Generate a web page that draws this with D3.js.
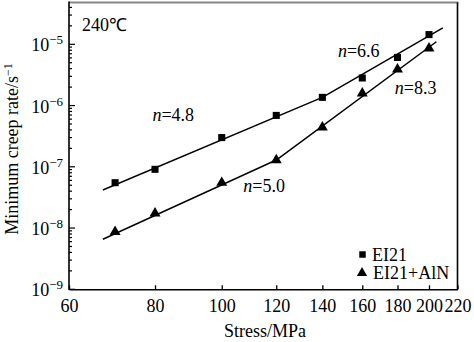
<!DOCTYPE html>
<html>
<head>
<meta charset="utf-8">
<script src="https://cdn.jsdelivr.net/npm/d3@7"></script>
<style>
  html, body { margin: 0; padding: 0; background: #fff; }
  svg { display: block; }
  text { font-family: "Liberation Serif", "Times New Roman", serif; fill: #000; }
</style>
</head>
<body>
<script>
// ---- data ----
const stress = [70, 80, 100, 120, 140, 160, 180, 200];
const rateEI21 = [5.5e-8, 9.1e-8, 3.0e-7, 6.9e-7, 1.36e-6, 2.82e-6, 6.1e-6, 1.44e-5];
const rateEI21AlN = [8.7e-9, 1.74e-8, 5.5e-8, 1.29e-7, 4.4e-7, 1.58e-6, 3.9e-6, 8.6e-6];
// fitted line segments (stress, rate)
const fitEI21Low = [[67.2, 4.18e-8], [140, 1.36e-6]];
const fitEI21High = [[140, 1.36e-6], [209.5, 1.85e-5]];
const fitAlNLow = [[67.2, 6.55e-9], [120, 1.29e-7]];
const fitAlNHigh = [[120, 1.29e-7], [205, 1.10e-5]];
const xTicks = [60, 80, 100, 120, 140, 160, 180, 200, 220];
const yMajor = [-9, -8, -7, -6, -5];
const nLabels = [
  {text: "4.8", s: 79.3, r: 5.7e-7},
  {text: "5.0", s: 107.5, r: 3.92e-8},
  {text: "6.6", s: 147.5, r: 6.1e-6},
  {text: "8.3", s: 178.4, r: 1.55e-6}
];
const seriesNames = ["EI21", "EI21+AlN"];
const tempLabel = "240\u2103";

// ---- layout ----
const W = 474, H = 342;
const L = 69, R = 457.5, T = 2.5, B = 289.3;
const svg = d3.select("body").append("svg").attr("width", W).attr("height", H)
  .attr("font-family", "Liberation Serif, serif");

const x = d3.scaleLog().domain([60, 220]).range([L, R]);
const y = d3.scaleLog().domain([1e-9, Math.pow(10, -9 + (B - T) / 61.25)]).range([B, T]);

// frame
svg.append("line").attr("x1", L).attr("x2", R + 1).attr("y1", T).attr("y2", T)
  .attr("stroke", "#888").attr("stroke-width", 2);
svg.append("line").attr("x1", R).attr("x2", R).attr("y1", T).attr("y2", B)
  .attr("stroke", "#000").attr("stroke-width", 1.6);

// x axis
const xAxis = d3.axisBottom(x).tickValues(xTicks).tickFormat(d3.format("d"))
  .tickSizeInner(-4).tickSizeOuter(0).tickPadding(12);
const gx = svg.append("g").attr("transform", `translate(0,${B})`).call(xAxis)
  .attr("font-family", "Liberation Serif, serif");
gx.select(".domain").attr("stroke", "#000").attr("stroke-width", 1.6);
gx.selectAll(".tick line").attr("stroke", "#000").attr("stroke-width", 1.3);
gx.selectAll(".tick text").attr("font-size", 18)
  .attr("dy", "0.71em").attr("y", 10);

// y axis: minor ticks
const minorVals = [];
for (let e = -9; e <= -5; e++) {
  for (let m = 1; m <= 9; m++) {
    const v = m * Math.pow(10, e);
    if (v >= y.domain()[0] && v <= y.domain()[1]) minorVals.push(v);
  }
}
const gy = svg.append("g");
gy.append("line").attr("x1", L).attr("x2", L).attr("y1", T - 1).attr("y2", B + 0.8)
  .attr("stroke", "#000").attr("stroke-width", 1.6);
gy.selectAll("line.tk").data(minorVals).join("line").attr("class", "tk")
  .attr("x1", L).attr("x2", d => L + (Math.abs(Math.log10(d) - Math.round(Math.log10(d))) < 1e-9 ? 6 : 3))
  .attr("y1", d => y(d)).attr("y2", d => y(d))
  .attr("stroke", "#000").attr("stroke-width", 1.2);
const ylab = gy.selectAll("text.yl").data(yMajor).join("text").attr("class", "yl")
  .attr("x", L - 6).attr("y", d => y(Math.pow(10, d)) + 7)
  .attr("text-anchor", "end").attr("font-size", 18);
ylab.append("tspan").text("10");
ylab.append("tspan").attr("dy", -7).attr("font-size", 13).text(d => "\u2212" + Math.abs(d));

// axis titles
svg.append("text").attr("x", 265).attr("y", 337).attr("text-anchor", "middle")
  .attr("font-size", 18).text("Stress/MPa");
const yt = svg.append("text").attr("transform", `translate(18,149) rotate(-90)`)
  .attr("text-anchor", "middle").attr("font-size", 18);
yt.append("tspan").text("Minimum creep rate/s");
yt.append("tspan").attr("dy", -6).attr("font-size", 12).text("\u22121");

// temperature label
svg.append("text").attr("x", 82).attr("y", 31).attr("font-size", 18).text(tempLabel);

// fit lines
const line = d3.line().x(d => x(d[0])).y(d => y(d[1]));
[fitEI21Low, fitEI21High, fitAlNLow, fitAlNHigh].forEach(seg => {
  svg.append("path").attr("d", line(seg)).attr("fill", "none")
    .attr("stroke", "#000").attr("stroke-width", 1.5);
});

// markers
const sq = d3.symbol().type(d3.symbolSquare).size(50);
const tri = d3.symbol().type(d3.symbolTriangle).size(52);
svg.selectAll("path.sq").data(stress).join("path").attr("class", "sq")
  .attr("d", sq).attr("transform", (d, i) => `translate(${x(d)},${y(rateEI21[i])})`).attr("fill", "#000");
svg.selectAll("path.tri").data(stress).join("path").attr("class", "tri")
  .attr("d", tri).attr("transform", (d, i) => `translate(${x(d)},${y(rateEI21AlN[i])})`).attr("fill", "#000");

// n labels
nLabels.forEach(l => {
  const t = svg.append("text").attr("x", x(l.s)).attr("y", y(l.r)).attr("font-size", 18);
  t.append("tspan").attr("font-style", "italic").text("n");
  t.append("tspan").text("=" + l.text);
});

// legend
const lg = svg.append("g");
lg.append("path").attr("d", d3.symbol().type(d3.symbolSquare).size(42)).attr("transform", "translate(362.5,254.5)");
lg.append("text").attr("x", 372).attr("y", 260.5).attr("font-size", 18).text(seriesNames[0]);
lg.append("path").attr("d", d3.symbol().type(d3.symbolTriangle).size(46)).attr("transform", "translate(362,273)");
lg.append("text").attr("x", 373).attr("y", 278.5).attr("font-size", 18).text(seriesNames[1]);
</script>
</body>
</html>
